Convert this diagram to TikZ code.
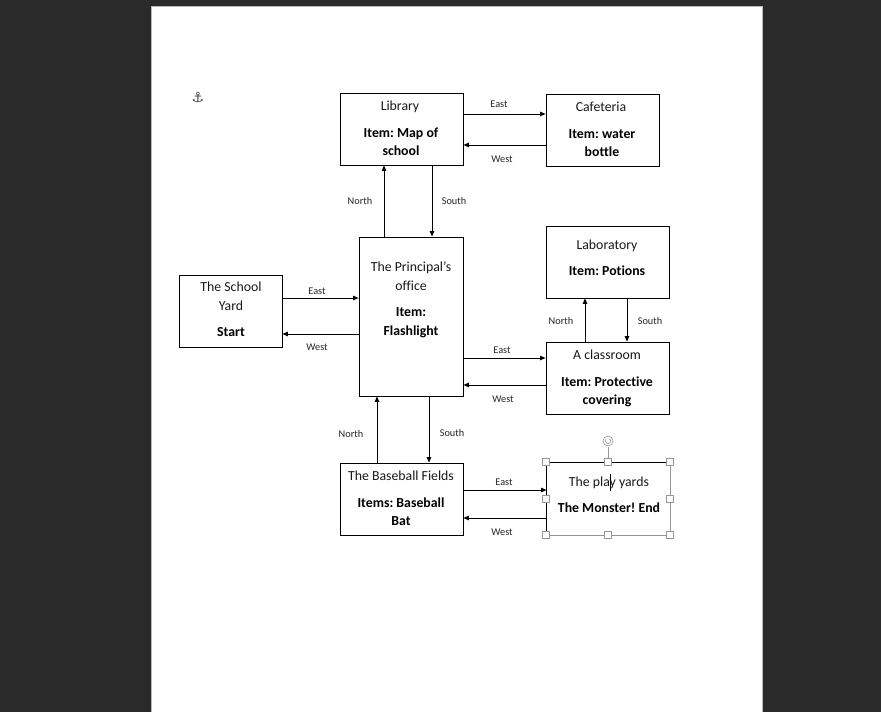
\documentclass[tikz,border=0pt]{standalone}
\usepackage{fontspec}
\setmainfont{Carlito}[Ligatures=NoCommon]
\newfontfamily\symfont{DejaVu Sans}
\usetikzlibrary{arrows.meta}
\frenchspacing
\definecolor{bgdark}{RGB}{42,42,42}
\definecolor{selgray}{RGB}{150,150,150}
\begin{document}
\begin{tikzpicture}[x=1pt,y=-1pt,
  box/.style={draw=black, line width=0.9pt, rectangle, inner sep=0pt},
  txt/.style={font=\fontsize{13.8}{16}\selectfont\frenchspacing, anchor=base, inner sep=0pt, text=black!90},
  btxt/.style={font=\fontsize{13.8}{16}\selectfont\bfseries\frenchspacing, anchor=base, inner sep=0pt, text=black},
  lbl/.style={font=\fontsize{10.3}{12}\selectfont, anchor=base, inner sep=0pt, text=black!85},
  arr/.style={line width=0.8pt, -{Triangle[length=5.5pt,width=4.5pt]}},
  handle/.style={draw=selgray, fill=white, line width=0.6pt, minimum size=7pt, inner sep=0pt, rectangle}]
\useasboundingbox (0,0) rectangle (881,712);
\fill[bgdark] (0,0) rectangle (881,712);
\draw[fill=white, draw=gray!55, line width=0.8pt] (151,6) rectangle (762,714);

% anchor symbol
\node[inner sep=0pt, text=black!75, font=\symfont\fontsize{14}{15}\selectfont] (anch) at (198,97) {⚓};

% boxes
\node[box, minimum width=123pt, minimum height=72pt] (lib) at (401.5,129) {};
\node[box, minimum width=113pt, minimum height=72pt] (caf) at (602.5,130) {};
\node[box, minimum width=104pt, minimum height=159pt] (prin) at (411,316.5) {};
\node[box, minimum width=103pt, minimum height=72pt] (yard) at (230.5,311) {};
\node[box, minimum width=123pt, minimum height=72pt] (lab) at (607.5,262) {};
\node[box, minimum width=123pt, minimum height=72pt] (cls) at (607.5,378) {};
\node[box, minimum width=123pt, minimum height=72pt] (base) at (401.5,499) {};
\node[box, draw=none, minimum width=122pt, minimum height=72pt] (play) at (608,499) {};

% texts
\node[txt] (t1a) at (400,110) {Library};
\node[btxt] (t1b) at (401,137) {Item: Map of};
\node[btxt] (t1c) at (401,155) {school};

\node[txt] (t2a) at (601,111) {Cafeteria};
\node[btxt] (t2b) at (602,138) {Item: water};
\node[btxt] (t2c) at (602,156) {bottle};

\node[txt] (t3a) at (411,271) {The Principal’s};
\node[txt] (t3b) at (411,290) {office};
\node[btxt] (t3c) at (411,316) {Item:};
\node[btxt] (t3d) at (411,335) {Flashlight};

\node[txt] (t4a) at (231,291) {The School};
\node[txt] (t4b) at (231,310) {Yard};
\node[btxt] (t4c) at (231,336) {Start};

\node[txt] (t5a) at (607,249) {Laboratory};
\node[btxt] (t5b) at (607,275) {Item: Potions};

\node[txt] (t6a) at (607,359) {A classroom};
\node[btxt] (t6b) at (607,386) {Item: Protective};
\node[btxt] (t6c) at (607,404) {covering};

\node[txt] (t7a) at (401,480) {The Baseball Fields};
\node[btxt] (t7b) at (401,507) {Items: Baseball};
\node[btxt] (t7c) at (401,525) {Bat};

\node[txt] (t8a) at (609,486) {The play yards};
\node[btxt] (t8b) at (609,512) {The Monster! End};

% arrows
\draw[arr] (0,114 -| lib.east) -- (0,114 -| caf.west);
\draw[arr] (0,145 -| caf.west) -- (0,145 -| lib.east);
\draw[arr] (prin.north -| 384,0) -- (lib.south -| 384,0);
\draw[arr] (lib.south -| 432,0) -- (prin.north -| 432,0);
\draw[arr] (0,298 -| yard.east) -- (0,298 -| prin.west);
\draw[arr] (0,334 -| prin.west) -- (0,334 -| yard.east);
\draw[arr] (0,358 -| prin.east) -- (0,358 -| cls.west);
\draw[arr] (0,385 -| cls.west) -- (0,385 -| prin.east);
\draw[arr] (cls.north -| 585,0) -- (lab.south -| 585,0);
\draw[arr] (lab.south -| 627,0) -- (cls.north -| 627,0);
\draw[arr] (base.north -| 377,0) -- (prin.south -| 377,0);
\draw[arr] (prin.south -| 429,0) -- (base.north -| 429,0);
\draw[arr] (0,490 -| base.east) -- (0,490 -| play.west);
\draw[arr] (0,518 -| play.west) -- (0,518 -| base.east);

% labels
\node[lbl] (l1) at (499,107) {East};
\node[lbl] (l2) at (502,162) {West};
\node[lbl] (l3) at (360,204) {North};
\node[lbl] (l4) at (454,204) {South};
\node[lbl] (l5) at (317,294) {East};
\node[lbl] (l6) at (317,350) {West};
\node[lbl] (l7) at (502,353) {East};
\node[lbl] (l8) at (503,402) {West};
\node[lbl] (l9) at (561,324) {North};
\node[lbl] (l10) at (650,324) {South};
\node[lbl] (l11) at (351,437) {North};
\node[lbl] (l12) at (452,436) {South};
\node[lbl] (l13) at (504,485) {East};
\node[lbl] (l14) at (502,535) {West};

% selection frame on play yards
\draw[selgray, line width=0.7pt] (546,462) rectangle (670,535);
\draw[black, line width=0.9pt] (play.north west) -- (play.north east);
\draw[black, line width=0.9pt] (play.north west) -- (play.south west);
\coordinate (rot) at (608,441);
\draw[selgray, line width=0.6pt] (608,446.5) -- (608,462);
\node[draw=selgray, fill=white, circle, minimum size=10pt, inner sep=0pt, line width=0.6pt] (rothandle) at (rot) {};
\draw[selgray, line width=0.6pt] (rot) ++(-60:2.6) arc[start angle=-60, end angle=220, radius=2.6];
\foreach \hx/\hy [count=\i] in {546/462, 608/462, 670/462, 546/499, 670/499, 546/535, 608/535, 670/535}
  \node[handle] (h\i) at (\hx,\hy) {};
% text cursor
\draw[black, line width=0.6pt] (610.5,474) -- (610.5,491);
\end{tikzpicture}
\end{document}
